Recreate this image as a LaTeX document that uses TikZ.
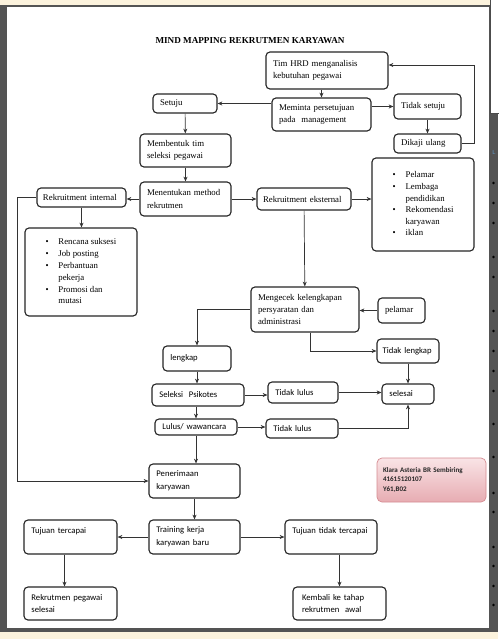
\documentclass[tikz,border=0pt]{standalone}
\usepackage{fontspec}
\setmainfont{Liberation Serif}
\newfontfamily\calibri{Carlito}
\usepackage{xcolor}
\usetikzlibrary{shapes.geometric, arrows.meta}

\definecolor{cream}{RGB}{252,243,221}
\definecolor{frame}{RGB}{84,84,84}
\definecolor{pinktop}{RGB}{249,228,230}
\definecolor{pinkbot}{RGB}{231,172,178}
\definecolor{pinkline}{RGB}{214,140,146}
\definecolor{fragblue}{RGB}{96,156,204}

\tikzstyle{sb} = [rectangle, rounded corners=2mm, draw=black!85, line width=1.6pt, fill=white, inner xsep=3.5mm, inner ysep=1mm, align=left, font=\fontsize{12.5}{17.7}\selectfont]
\tikzstyle{cb} = [sb, inner xsep=3.7mm, font=\calibri\fontsize{12.3}{18.4}\selectfont]
\tikzstyle{lb} = [sb, align=center, font=\fontsize{12.5}{16.5}\selectfont]
\tikzstyle{pinkbox} = [rectangle, rounded corners=2.5mm, draw=pinkline, line width=1pt, top color=pinktop, bottom color=pinkbot, inner xsep=3mm, align=left, text=black!85, font=\calibri\bfseries\fontsize{10}{13.5}\selectfont]
\tikzstyle{arrow} = [line width=1pt, draw=black!80, -{Stealth[length=2.4mm,width=2mm]}]

\begin{document}
\begin{tikzpicture}[x=0.5mm, y=-0.5mm]

\useasboundingbox (0,0) rectangle (498,639);

% page and screen around it
\fill[cream] (0,0) rectangle (498,639);
\fill[frame] (0,5) rectangle (498,632);
\fill[white] (7,7) rectangle (489,628);
\filldraw[fill=white, draw=black!70, line width=1pt] (490,-2) rectangle (500,113);
\foreach \y in {183,203,223,257,277,311,331,351,371,391,424,457,493,512,547,566,586,605}
  \fill[black] (493.5,\y) circle (0.65mm);
\node (frag) [text=fragblue, font=\sffamily\fontsize{8}{9}\selectfont, inner sep=0pt] at (494,153) {L};

\node (title) [font=\bfseries\fontsize{13}{15}\selectfont] at (250,41) {MIND MAPPING REKRUTMEN KARYAWAN};

% upper part
\node (hrd) [sb, text width=54mm, minimum height=18.5mm] at (327,70.5) {Tim HRD menganalisis\\kebutuhan pegawai};
\node (minta) [sb, text width=42.5mm, minimum height=16.5mm] at (321.5,114.5) {Meminta persetujuan\\pada\ \ management};
\node (setuju) [sb, text width=25mm, minimum height=9.5mm] at (185,103.5) {Setuju};
\node (tolak) [sb, text width=26.5mm, minimum height=12.5mm] at (427.5,106.5) {Tidak setuju};
\node (kaji) [sb, text width=26.5mm, minimum height=9.5mm] at (427.5,143.5) {Dikaji ulang};
\node (bentuk) [sb, text width=38.5mm, minimum height=16.5mm] at (185.5,150.5) {Membentuk tim\\seleksi pegawai};
\node (metode) [sb, text width=38.5mm, minimum height=17mm] at (185.5,199) {Menentukan method\\rekrutmen};
\node (internal) [sb, inner xsep=3mm, text width=38.5mm, minimum height=9.5mm] at (81.5,197.5) {Rekruitment internal};
\node (eksternal) [sb, inner xsep=3mm, text width=41mm, minimum height=11mm] at (304,199) {Rekruitment eksternal};

\node (sumber) [lb, minimum width=51mm, minimum height=46.5mm] at (423,204.5) {\begin{tabular}{@{}l@{\hspace{5mm}}l@{}}
\textbullet & Pelamar\\
\textbullet & Lembaga\\
 & pendidikan\\
\textbullet & Rekomendasi\\
 & karyawan\\
\textbullet & iklan
\end{tabular}};
\node (sumberin) [lb, font=\fontsize{12.5}{16.8}\selectfont, minimum width=56mm, minimum height=44mm] at (81,272) {\begin{tabular}{@{}l@{\hspace{4.8mm}}l@{}}
\textbullet & Rencana suksesi\\
\textbullet & Job posting\\
\textbullet & Perbantuan\\
 & pekerja\\
\textbullet & Promosi dan\\
 & mutasi
\end{tabular}};

\node (cek) [sb, text width=47mm, minimum height=22.5mm, font=\fontsize{12.5}{17}\selectfont] at (305,309.5) {Mengecek kelengkapan\\persyaratan dan\\administrasi};
\node (pelamar) [sb, text width=16.5mm, minimum height=12.5mm] at (401.5,310.5) {pelamar};

% lower part
\node (lengkap) [cb, text width=26.6mm, minimum height=12.5mm] at (197,358.5) {lengkap};
\node (tdklengkap) [cb, inner xsep=2.8mm, text width=25.4mm, minimum height=12mm] at (408,351) {Tidak lengkap};
\node (selesai) [cb, text width=18.6mm, minimum height=10mm] at (408,394) {selesai};
\node (psikotes) [cb, text width=38.6mm, minimum height=11mm] at (198,395) {Seleksi\ \ Psikotes};
\node (tl1) [cb, text width=27.6mm, minimum height=10.5mm] at (303,392.5) {Tidak lulus};
\node (wawancara) [cb, inner ysep=0.5mm, text width=33.6mm, minimum height=8mm] at (196,427) {Lulus/ wawancara};
\node (tl2) [cb, text width=28.6mm, minimum height=9.5mm] at (302,428.5) {Tidak lulus};
\node (terima) [cb, text width=38.1mm, minimum height=17mm] at (194.5,481) {Penerimaan\\karyawan};
\node (training) [cb, text width=38.1mm, minimum height=17mm] at (194.5,537) {Training kerja\\karyawan baru};
\node (capai) [cb, text width=39.1mm, minimum height=17mm] at (70.5,537) {Tujuan tercapai\\ \mbox{}};
\node (tdkcapai) [cb, text width=38.6mm, minimum height=17mm] at (331,537) {Tujuan tidak tercapai\\ \mbox{}};
\node (akhir) [cb, text width=39.1mm, minimum height=16.5mm] at (70.5,603.5) {Rekrutmen pegawai\\selesai};
\node (kembali) [cb, inner xsep=4.5mm, text width=37.5mm, minimum height=16.5mm] at (339.5,603.5) {Kembali ke tahap\\rekrutmen\ \ awal};

\node (nama) [pinkbox, text width=48.5mm, minimum height=22mm] at (431.5,480) {Klara Asteria BR Sembiring\\41615120107\\Y61,B02};

\coordinate (balik) at (474,65);
\coordinate (kiri) at (17,0);

\draw [arrow] (minta.north |- hrd.south) -- (minta.north);
\draw [arrow] (minta.west |- setuju.east) -- (setuju.east);
\draw [arrow] (minta.east |- tolak.west) -- (tolak.west);
\draw [arrow] (tolak) -- (kaji);
\draw [arrow] (kaji.east) -| (balik) -- (balik -| hrd.east);
\draw [arrow] (setuju) -- (bentuk);
\draw [arrow] (bentuk) -- (metode);

\draw [arrow] (metode.west) -- (internal.east |- metode.west);
\draw [arrow] (metode.east) -- (eksternal.west |- metode.east);
\draw [arrow] (eksternal.east) -- (sumber.west |- eksternal.east);
\draw [arrow] (internal.south) -- (internal.south |- sumberin.north);
\draw [arrow] (internal.west) -- (internal.west -| kiri) |- (terima.west);
\draw [arrow] (eksternal) -- (cek);
\draw [arrow] (pelamar.west) -- (cek.east |- pelamar.west);

\draw [arrow] (cek.west) -| (lengkap.north);
\draw [arrow] ([xshift=2.5mm]cek.south) |- (tdklengkap.west);
\draw [arrow] (tdklengkap) -- (selesai);
\draw [arrow] (lengkap.south) -- (lengkap.south |- psikotes.north);
\draw [arrow] (psikotes.east) -- (tl1.west |- psikotes.east);
\draw [arrow] (tl1.east) -- (selesai.west |- tl1.east);
\draw [arrow] (wawancara.north |- psikotes.south) -- (wawancara.north);
\draw [arrow] (wawancara.east) -- (tl2.west |- wawancara.east);
\draw [arrow] (tl2.east) -| (selesai.south);
\draw [arrow] (wawancara.south) -- (wawancara.south |- terima.north);

\draw [arrow] (terima) -- (training);
\draw [arrow] (training.west) -- (capai.east);
\draw [arrow] (training.east) -- (tdkcapai.west);
\draw [arrow] ([xshift=-3mm]capai.south) -- ([xshift=-3mm]akhir.north);
\draw [arrow] (kembali.north |- tdkcapai.south) -- (kembali.north);

\end{tikzpicture}
\end{document}
